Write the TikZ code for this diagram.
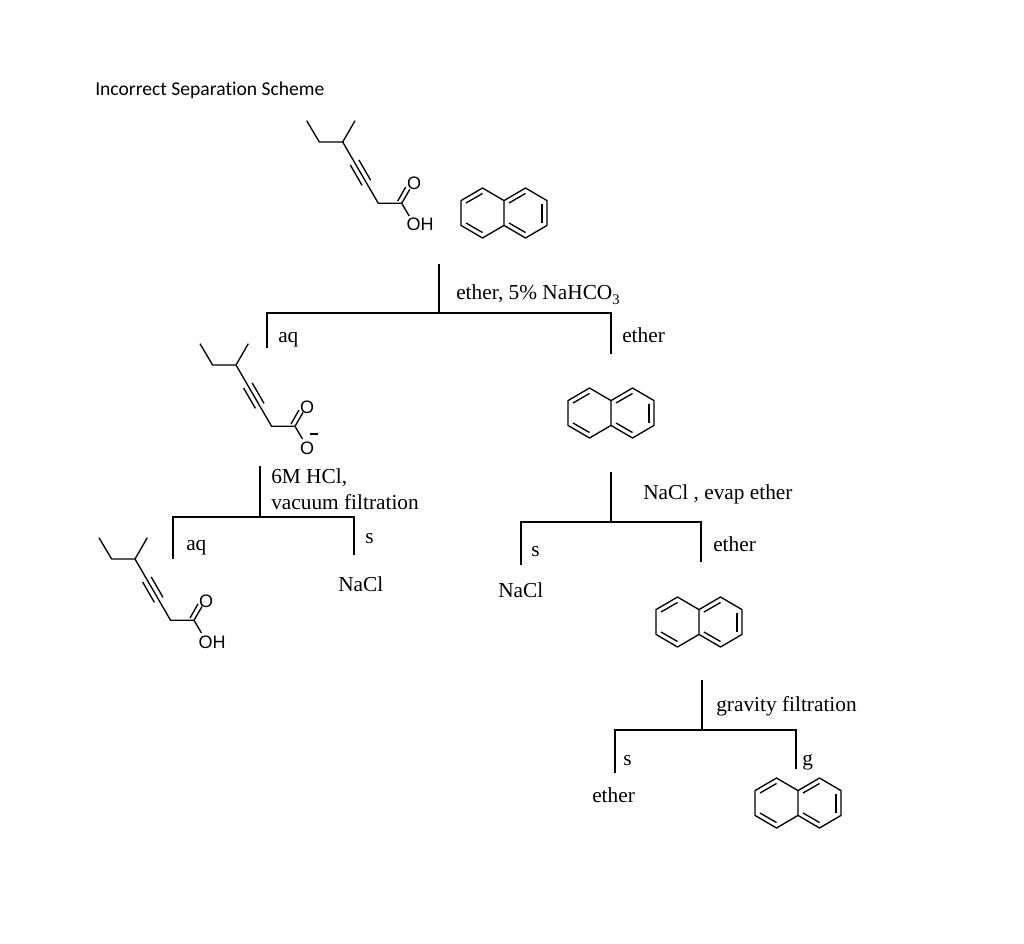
\documentclass[tikz,border=0pt]{standalone}
\usepackage{fontspec}
\setmainfont{Liberation Serif}
\newfontfamily\titlefont[Ligatures=CommonOff]{Carlito}
\newfontfamily\atomfont{Liberation Sans}
\tikzset{
    branch/.style={line width=1.5pt},
    bond/.style={line width=1pt},
    lbl/.style={anchor=base west,inner sep=0pt,font=\fontsize{16}{18}\selectfont},
    atom/.style={inner sep=0pt,font=\atomfont\fontsize{13.5}{14}\selectfont},
    naph/.pic={
        \draw[bond,line join=round] (-21.5,-25) -- (-43,-12.4) -- (-43,12.4) -- (-21.5,25) -- (0,12.4) -- (0,-12.4) -- cycle;
        \draw[bond,line join=round] (0,-12.4) -- (21.5,-25) -- (43,-12.4) -- (43,12.4) -- (21.5,25) -- (0,12.4);
        \draw[bond] (-38,-10) -- (-21.5,-19.5);
        \draw[bond] (-38,10) -- (-21.5,19.5);
        \draw[bond] (5,-10) -- (21.5,-19.5);
        \draw[bond] (5,10) -- (21.5,19.5);
        \draw[bond] (38,-9.5) -- (38,9.5);
    },
    chain/.pic={
        \draw[bond,line join=round] (-36,-21.3) -- (-23.4,0) -- (0,0) -- (12.3,-21.3);
        \draw[bond,line join=round] (0,0) -- (35.6,61.3) -- (59,61.3);
        \draw[bond] (16.2,17.9) -- (28,38.4);
        \draw[bond] (7.6,22.9) -- (19.4,43.4);
        \draw[bond] (59,61.3) -- (67,47.5);
        \draw[bond] (55,59) -- (63,45);
        \draw[bond] (59,61.3) -- (66.5,74);
    },
}
\begin{document}
\begin{tikzpicture}[x=.75pt,y=-.75pt]
    \useasboundingbox (0,0) rectangle (1024,943);
    \node[anchor=base west,inner sep=0pt,font=\titlefont\fontsize{14.7}{16}\selectfont] (title) at (95,95) {Incorrect Separation Scheme};
    % molecules
    \pic at (342.7,142) {chain};
    \node[atom] (oxoA) at (414,183) {O};
    \node[atom] (hydA) at (420,224) {OH};
    \pic at (504,213) {naph};
    \pic at (236,365) {chain};
    \node[atom] (oxoB) at (307,407) {O};
    \node[atom] (oxyB) at (307,448) {O};
    \coordinate (minusL) at (310,434);
    \coordinate (minusR) at (318,434);
    \draw[bond] (minusL) -- (minusR);
    \pic at (611,413) {naph};
    \pic at (135,559) {chain};
    \node[atom] (oxoC) at (206,601) {O};
    \node[atom] (hydC) at (212,642) {OH};
    \pic at (699,622) {naph};
    \pic at (798,803) {naph};
    % first split
    \coordinate (topA) at (439,264);
    \coordinate (midA) at (439,313);
    \coordinate (cornerAl) at (267,313);
    \coordinate (cornerAr) at (611,313);
    \coordinate (endAl) at (267,348);
    \coordinate (endAr) at (611,354);
    \draw[branch] (topA) -- (midA);
    \draw[branch] (endAl) -- (cornerAl) -- (cornerAr) -- (endAr);
    \node[lbl] (reagA) at (456,299) {ether, 5\% NaHCO\raisebox{-.55ex}{\fontsize{11}{11}\selectfont 3}};
    \node[lbl] (aqA) at (278,342) {aq};
    \node[lbl] (etherA) at (622,342) {ether};
    % acid side
    \coordinate (topB) at (260,466);
    \coordinate (midB) at (260,517);
    \coordinate (cornerBl) at (173,517);
    \coordinate (cornerBr) at (354,517);
    \coordinate (endBl) at (173,559);
    \coordinate (endBr) at (354,555);
    \draw[branch] (topB) -- (midB);
    \draw[branch] (endBl) -- (cornerBl) -- (cornerBr) -- (endBr);
    \node[lbl] (reagB) at (271,483) {6M HCl,};
    \node[lbl] (reagBb) at (271,509) {vacuum filtration};
    \node[lbl] (aqB) at (186,550) {aq};
    \node[lbl] (solidB) at (365,543) {s};
    \node[lbl] (saltB) at (338,591) {NaCl};
    % neutral side
    \coordinate (topC) at (611,472);
    \coordinate (midC) at (611,522);
    \coordinate (cornerCl) at (521,522);
    \coordinate (cornerCr) at (701,522);
    \coordinate (endCl) at (521,565);
    \coordinate (endCr) at (701,562);
    \draw[branch] (topC) -- (midC);
    \draw[branch] (endCl) -- (cornerCl) -- (cornerCr) -- (endCr);
    \node[lbl] (reagC) at (643,499) {NaCl , evap ether};
    \node[lbl] (solidC) at (531,556) {s};
    \node[lbl] (etherC) at (713,551) {ether};
    \node[lbl] (saltC) at (498,597) {NaCl};
    % last split
    \coordinate (topD) at (702,680);
    \coordinate (midD) at (702,730);
    \coordinate (cornerDl) at (615,730);
    \coordinate (cornerDr) at (796,730);
    \coordinate (endDl) at (615,773);
    \coordinate (endDr) at (796,769);
    \draw[branch] (topD) -- (midD);
    \draw[branch] (endDl) -- (cornerDl) -- (cornerDr) -- (endDr);
    \node[lbl] (reagD) at (716,711) {gravity filtration};
    \node[lbl] (solidD) at (623,765) {s};
    \node[lbl] (gasD) at (802,765) {g};
    \node[lbl] (etherD) at (592,802) {ether};
\end{tikzpicture}
\end{document}
